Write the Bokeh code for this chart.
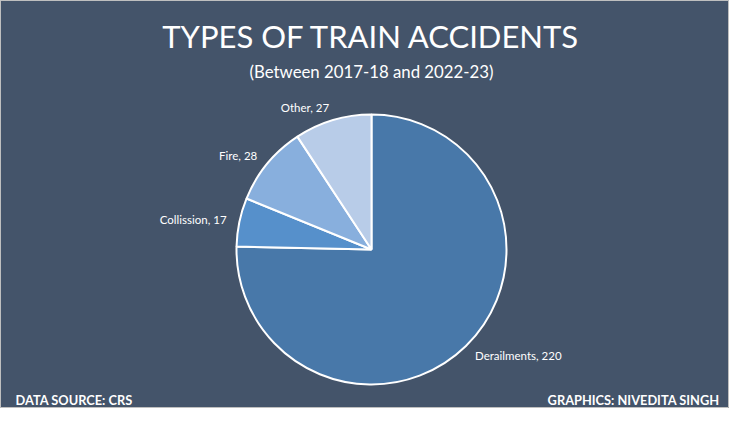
import math
from bokeh.plotting import figure
from bokeh.models import ColumnDataSource, Label
from bokeh.core.properties import value
from bokeh.embed import file_html
from bokeh.resources import INLINE

# --- data ---
categories = ["Derailments", "Collission", "Fire", "Other"]
counts = [220, 17, 28, 27]
colors = ["#4878A9", "#5690CB", "#88AFDD", "#B8CCE8"]

W, H = 729, 408
cx, cy, r = 371, H - 249, 135

total = sum(counts)
starts, ends, lx, ly, aligns, labels = [], [], [], [], [], []
acc = 0
for cat, n in zip(categories, counts):
    a0 = math.pi / 2 - 2 * math.pi * acc / total
    acc += n
    a1 = math.pi / 2 - 2 * math.pi * acc / total
    starts.append(a0)
    ends.append(a1)
    mid = (a0 + a1) / 2
    lx.append(cx + (r + 13) * math.cos(mid))
    ly.append(cy + (r + 13) * math.sin(mid))
    aligns.append("left" if math.cos(mid) > 0 else "right")
    labels.append(f"{cat}, {n}")

source = ColumnDataSource(data=dict(
    cat=categories, n=counts, color=colors, start=starts, end=ends,
    lx=lx, ly=ly, align=aligns, label=labels,
))

p = figure(width=W, height=H, x_range=(0, W), y_range=(0, H),
           output_backend="svg", toolbar_location=None,
           background_fill_color="#44546A", border_fill_color="#44546A",
           min_border=0, outline_line_color="#BFBFBF")
p.axis.visible = False
p.grid.visible = False

p.wedge(x=cx, y=cy, radius=r, start_angle="start", end_angle="end",
        direction="clock", fill_color="color", line_color="white",
        line_width=2, source=source)

p.text(x="lx", y="ly", text="label", text_align="align", text_baseline="middle",
       text_color="white", text_font=value("Lato"), text_font_size="11.5px",
       source=source)

p.add_layout(Label(x=cx, y=H - 35, text="TYPES OF TRAIN ACCIDENTS",
                   text_align="center", text_baseline="middle", text_color="white",
                   text_font="Lato", text_font_size="31px"))
p.add_layout(Label(x=cx, y=H - 71, text="(Between 2017-18 and 2022-23)",
                   text_align="center", text_baseline="middle", text_color="white",
                   text_font="Lato", text_font_size="16.8px"))
p.add_layout(Label(x=15, y=H - 399, text="DATA SOURCE: CRS",
                   text_align="left", text_baseline="middle", text_color="white",
                   text_font="Lato", text_font_style="bold", text_font_size="12.8px"))
p.add_layout(Label(x=W - 10, y=H - 399, text="GRAPHICS: NIVEDITA SINGH",
                   text_align="right", text_baseline="middle", text_color="white",
                   text_font="Lato", text_font_style="bold", text_font_size="12.8px"))

open("out.html", "w").write(file_html(p, INLINE))
